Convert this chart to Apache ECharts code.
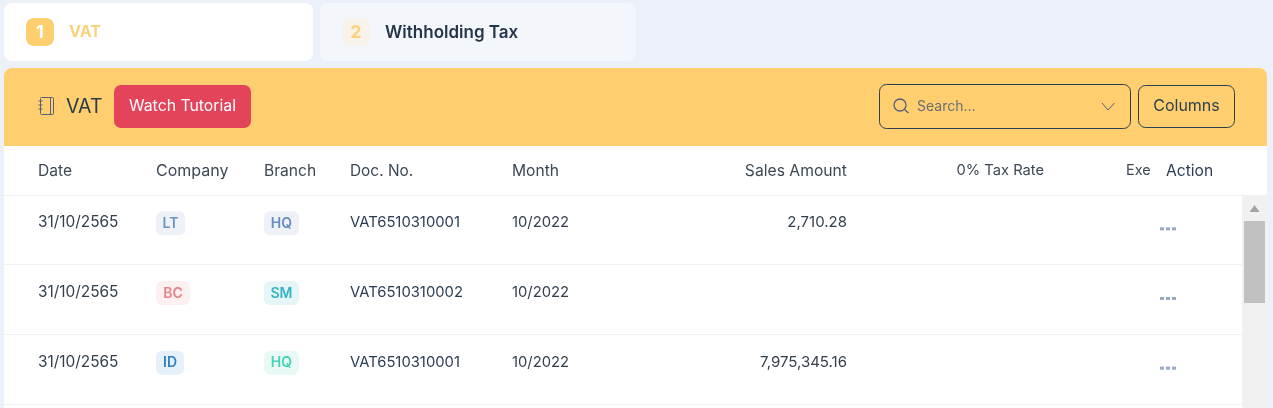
<!DOCTYPE html>
<html>
<head>
<meta charset="utf-8">
<title>VAT</title>
<script src="https://cdn.jsdelivr.net/npm/echarts@6/dist/echarts.min.js"></script>
<style>
html, body { margin: 0; padding: 0; background: #ecf0f8; }
#main { width: 1273px; height: 408px; }
</style>
</head>
<body>
<div id="main"></div>
<script>
// table content
var rows = ['row1', 'row2', 'row3'];
var dates = ['31/10/2565', '31/10/2565', '31/10/2565'];
var companies = ['LT', 'BC', 'ID'];
var branches = ['HQ', 'SM', 'HQ'];
var docNos = ['VAT6510310001', 'VAT6510310002', 'VAT6510310001'];
var months = ['10/2022', '10/2022', '10/2022'];
var salesAmounts = ['2,710.28', '', '7,975,345.16'];
var headers = ['Date', 'Company', 'Branch', 'Doc. No.', 'Month', 'Sales Amount', '0% Tax Rate', 'Exe', 'Action'];

var FONT = 'Inter';
var INK = '#333f4d';
var YELLOW = '#ffce6f';

// column geometry: x, alignment and font size per header
var colX = [38, 156, 264, 350, 512, 847, 1044, 1126, 1166];
var colAlign = ['left', 'left', 'left', 'left', 'left', 'right', 'right', 'left', 'left'];
var colSize = [15.6, 16, 15.6, 15.4, 15.6, 15.7, 14.7, 14.4, 15.6];

// badge styles, one per row
var companyBadges = [
    { w: 29, bg: '#eef2f8', fg: '#6a93c4' },
    { w: 34, bg: '#fdf0f1', fg: '#e58289' },
    { w: 28, bg: '#e5f0f8', fg: '#2c7fc3' }
];
var branchBadges = [
    { w: 35, bg: '#eef2f8', fg: '#6a8dc0' },
    { w: 35, bg: '#e6f6f8', fg: '#35b3c2' },
    { w: 35, bg: '#e8f9f6', fg: '#45d4b5' }
];

function label(x, y, text, size, color, align, weight) {
    return {
        type: 'text', x: x, y: y, silent: true,
        style: {
            text: text, fontFamily: FONT, fontSize: size, fill: color,
            align: align || 'left', verticalAlign: 'middle', fontWeight: weight || 400
        }
    };
}
function box(x, y, w, h, r, fill, stroke) {
    return {
        type: 'rect', silent: true,
        shape: { x: x, y: y, width: w, height: h, r: r },
        style: { fill: fill || 'none', stroke: stroke || 'none', lineWidth: stroke ? 1 : 0 }
    };
}
function badge(x, cy, b, text) {
    return [
        box(x, cy - 12, b.w, 24, 6, b.bg),
        label(x + b.w / 2, cy + 0.5, text, 14, b.fg, 'center', 600)
    ];
}

var chrome = [
    // tabs
    box(4, 3, 309, 58, 8, '#ffffff'),
    box(320, 3, 316, 58, 8, '#f3f6fb'),
    box(26, 18, 28, 28, 8, YELLOW),
    label(40, 32.5, '1', 18, '#ffffff', 'center', 700),
    label(69, 32.5, 'VAT', 16, '#fdd27e', 'left', 700),
    box(342, 18, 28, 28, 8, '#f8f4ec'),
    label(356, 32.5, '2', 18, '#fdd27e', 'center', 700),
    label(385, 32.5, 'Withholding Tax', 17, '#26364a', 'left', 600),
    // panel
    box(4, 68, 1263, 340, [8, 8, 0, 0], '#ffffff'),
    box(4, 68, 1263, 78, [8, 8, 0, 0], YELLOW),
    // notebook icon
    box(40.5, 97.5, 13, 17, 1, 'none', '#56607a'),
    { type: 'line', silent: true, shape: { x1: 50.5, y1: 98, x2: 50.5, y2: 114 }, style: { stroke: '#56607a', lineWidth: 1 } },
    { type: 'line', silent: true, shape: { x1: 38.5, y1: 101, x2: 42.5, y2: 101 }, style: { stroke: '#56607a', lineWidth: 1 } },
    { type: 'line', silent: true, shape: { x1: 38.5, y1: 105, x2: 42.5, y2: 105 }, style: { stroke: '#56607a', lineWidth: 1 } },
    { type: 'line', silent: true, shape: { x1: 38.5, y1: 109, x2: 42.5, y2: 109 }, style: { stroke: '#56607a', lineWidth: 1 } },
    label(66, 107.5, 'VAT', 19.5, '#2a3a4a'),
    box(114, 85, 137, 43, 7, '#e34459'),
    label(182.5, 106.5, 'Watch Tutorial', 15.8, '#ffffff', 'center'),
    // search box
    box(879.5, 84.5, 251, 44, 7, 'none', '#2c3e50'),
    { type: 'circle', silent: true, shape: { cx: 900, cy: 105, r: 6 }, style: { fill: 'none', stroke: '#54607a', lineWidth: 1.3 } },
    { type: 'line', silent: true, shape: { x1: 904.5, y1: 109.5, x2: 908.5, y2: 113 }, style: { stroke: '#54607a', lineWidth: 1.3 } },
    label(917, 106.5, 'Search...', 14, '#6d6d78'),
    { type: 'polyline', silent: true, shape: { points: [[1102, 103], [1108, 110], [1114.5, 103]] }, style: { fill: 'none', stroke: '#54607a', lineWidth: 1 } },
    box(1138.5, 85.5, 96, 42, 7, 'none', '#2c3e50'),
    label(1186.5, 106.5, 'Columns', 16, '#2c3e50', 'center'),
    // scrollbar
    box(1242, 195, 25, 213, 0, '#f1f1f1'),
    box(1244, 221, 21, 82, 0, '#c1c1c1'),
    { type: 'polygon', silent: true, shape: { points: [[1254.5, 205], [1249.5, 212], [1259.5, 212]] }, style: { fill: '#a3a3a3' } }
];
headers.forEach(function (h, i) {
    chrome.push(label(colX[i], 171, h, colSize[i], i === 8 ? '#2b3c55' : '#3c4855', colAlign[i]));
});

function renderRow(params, api) {
    var i = api.value(0);
    var cy = api.coord([0, rows[i]])[1];
    var textY = cy - 7;
    var kids = [
        label(colX[0], textY, dates[i], 15.4, INK),
        label(colX[3], textY, docNos[i], 14.8, '#2b3d55'),
        label(colX[4], textY, months[i], 14.8, INK),
        label(colX[5], textY, salesAmounts[i], 15, INK, 'right')
    ];
    kids = kids.concat(badge(colX[1], cy - 6.5, companyBadges[i], companies[i]));
    kids = kids.concat(badge(colX[2], cy - 6.5, branchBadges[i], branches[i]));
    // action dots
    [1162, 1168, 1174].forEach(function (x) {
        kids.push({ type: 'rect', silent: true, shape: { x: x - 2, y: cy - 2.5, width: 4, height: 3 }, style: { fill: '#98a8c2' } });
    });
    return { type: 'group', children: kids };
}

var chart = echarts.init(document.getElementById('main'));
chart.setOption({
    animation: false,
    backgroundColor: '#ecf0f8',
    grid: { left: 4, right: 31, top: 195, height: 209, containLabel: false },
    xAxis: { type: 'value', min: 0, max: 1238, show: false },
    yAxis: {
        type: 'category', data: rows, inverse: true,
        axisLine: { show: false }, axisTick: { show: false }, axisLabel: { show: false },
        splitLine: { show: true, showMinLine: true, showMaxLine: true, lineStyle: { color: '#eff1f4', width: 1 } }
    },
    graphic: { elements: chrome },
    series: [{
        type: 'custom', silent: true, clip: false, z: 10,
        coordinateSystem: 'cartesian2d',
        encode: { x: 1, y: 0 },
        data: rows.map(function (r, i) { return [i, 0]; }),
        renderItem: renderRow
    }]
});
window.onresize = chart.resize;
</script>
</body>
</html>
